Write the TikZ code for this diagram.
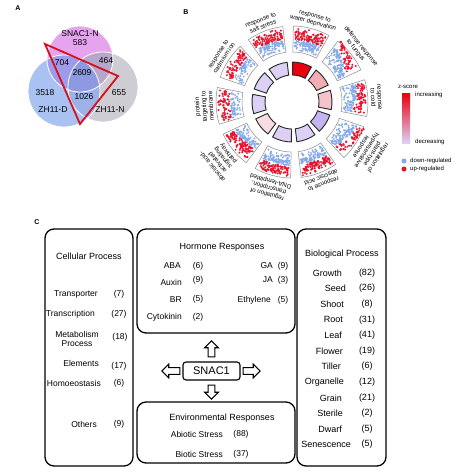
\documentclass[tikz,border=0pt]{standalone}
\usepackage{fontspec}
\setmainfont{Liberation Sans}
\usetikzlibrary{shapes.arrows}
\definecolor{VennPink}{HTML}{E6A4EE}
\definecolor{VennBlue}{HTML}{A9C2F2}
\definecolor{VennGray}{HTML}{CDCDD3}
\definecolor{VennSD}{HTML}{9E9CEA}
\definecolor{VennSN}{HTML}{B8A7CC}
\definecolor{VennDN}{HTML}{9CB2E6}
\definecolor{VennAll}{HTML}{8D99E0}
\definecolor{TriRed}{HTML}{D7101F}
\definecolor{ZRed}{HTML}{E8000E}
\definecolor{ZPink}{HTML}{F2ACB4}
\definecolor{ZPinkL}{HTML}{F5C3CB}
\definecolor{ZPinkXL}{HTML}{F8DCE3}
\definecolor{ZPurp}{HTML}{C4B4F2}
\definecolor{ZLav}{HTML}{DCD0F5}
\definecolor{ScRed}{HTML}{E8142E}
\definecolor{ScBlue}{HTML}{82A9EA}
\definecolor{SecLine}{HTML}{8A8A8A}

\tikzset{
  panlab/.style={font=\fontsize{7}{8}\selectfont\bfseries, inner sep=0pt},
  venntxt/.style={font=\fontsize{8.5}{9}\selectfont, inner sep=0pt},
  seclab/.style={font=\fontsize{6.2}{6.8}\selectfont, align=center, inner sep=0.3pt},
  legtxt/.style={font=\fontsize{6}{7}\selectfont, inner sep=0pt, anchor=west},
  groupbox/.style={draw, line width=1.3pt, rounded corners=9pt},
  boxtitle/.style={font=\fontsize{9}{10}\selectfont, inner sep=0pt},
  itemtxt/.style={font=\fontsize{8.5}{9}\selectfont, inner sep=0pt},
  bioitem/.style={font=\fontsize{9}{10}\selectfont, inner sep=0pt},
  blockarrow/.style={draw, line width=1.1pt, fill=white, single arrow,
    single arrow head extend=3.5pt, inner sep=2.8pt, minimum height=#1},
  blockarrow/.default=16pt
}

\begin{document}
\begin{tikzpicture}[x=1pt,y=1pt]
\fill[white,use as bounding box] (0,0) rectangle (474,-474);

% A: venn
\node[panlab] (labA) at (18,-8) {A};
\coordinate (cS) at (80,-59);
\coordinate (cD) at (64,-91);
\coordinate (cN) at (103,-87);
\fill[VennBlue] (cD) circle (36pt);
\fill[VennGray] (cN) circle (35pt);
\fill[VennPink] (cS) circle (33pt);
\begin{scope}
  \clip (cS) circle (33pt);
  \fill[VennSD] (cD) circle (36pt);
  \fill[VennSN] (cN) circle (35pt);
\end{scope}
\begin{scope}
  \clip (cD) circle (36pt);
  \fill[VennDN] (cN) circle (35pt);
  \clip (cS) circle (33pt);
  \fill[VennAll] (cN) circle (35pt);
\end{scope}
\draw[white, line width=0.8pt] (cD) circle (36pt) (cN) circle (35pt) (cS) circle (33pt);
\node[venntxt] (vnS) at (80,-34) {SNAC1-N};
\node[venntxt] (vS) at (80,-43) {583};
\node[venntxt] (vSD) at (62,-63) {704};
\node[venntxt] (vSN) at (106,-61) {464};
\node[venntxt] (vAll) at (82,-73) {2609};
\node[venntxt] (vD) at (45,-93) {3518};
\node[venntxt] (vDN) at (84,-97) {1026};
\node[venntxt] (vN) at (119,-93) {655};
\node[venntxt] (vnD) at (53,-110) {ZH11-D};
\node[venntxt] (vnN) at (110,-110) {ZH11-N};
\draw[TriRed, line width=1.8pt, line join=miter] (45,-44) -- (118,-76) -- (80,-124) -- cycle;

% B: go circle
\node[panlab] (labB) at (186,-12) {B};
\begin{scope}[shift={(292,-102)}]
\pgfmathsetseed{11}
\foreach \a/\zc/\rz/\sl/\nb/\nr/\lab [count=\k] in {
  111/ZLav/63/0/100/100/{response to\\salt stress},
  75/ZRed/62/0/100/110/{response to\\water deprivation},
  39/ZPink/65/12/120/60/{defense response\\to fungus},
  3/ZPinkL/64/6/110/70/{response\\to cold},
  -33/ZPurp/66/8/120/55/{regulation of\\plant-type\\hypersensitive\\response},
  -69/ZLav/63/0/100/110/{response to\\abscisic acid},
  -105/ZLav/64/0/110/110/{regulation of\\transcription,\\DNA-templated},
  -141/ZPinkXL/62/-6/90/110/{abscisic acid-\\activated\\signaling\\pathway},
  183/ZLav/62/0/60/75/{protein\\targeting to\\membrane},
  147/ZLav/63/0/70/80/{response to\\cadmium ion}}{
  \draw[SecLine, line width=0.5pt] (\a-14:50) -- (\a-14:76)
    arc[start angle=\a-14, end angle=\a+14, radius=76pt] -- (\a+14:50)
    arc[start angle=\a+14, end angle=\a-14, radius=50pt] -- cycle;
  % down-regulated: dense band under the zero line, sparse towards the inside
  \foreach \i in {1,...,\nb}{
    \pgfmathsetmacro\u{rnd}\pgfmathsetmacro\v{rnd}\pgfmathsetmacro\w{rnd}
    \pgfmathsetmacro\t{\a-12.5+25*\u}
    \pgfmathsetmacro\m{\rz+\sl*(\u-0.5)}
    \pgfmathsetmacro\r{\w<0.65 ? \m-0.5-5*\v : 52+(\m-57)*\v}
    \fill[ScBlue] (\t:\r) circle (1pt);
  }
  % up-regulated: dense band over the zero line, a few outliers
  \foreach \i in {1,...,\nr}{
    \pgfmathsetmacro\u{rnd}\pgfmathsetmacro\v{rnd}\pgfmathsetmacro\w{rnd}
    \pgfmathsetmacro\t{\a-12.5+25*\u}
    \pgfmathsetmacro\m{\rz+\sl*(\u-0.5)}
    \pgfmathsetmacro\r{\w<0.8 ? \m+0.5+7*\v : \m+7.5+(74-\m-7.5)*\v}
    \fill[ScRed] (\t:\r) circle (1.1pt);
  }
  \draw[black!85, line width=0.9pt, fill=\zc] (\a-14:27) -- (\a-14:40)
    arc[start angle=\a-14, end angle=\a+14, radius=40pt] -- (\a+14:27)
    arc[start angle=\a+14, end angle=\a-14, radius=27pt] -- cycle;
  \node[seclab, rotate=\a-90, anchor=south] (slab\k) at (\a:78.5) {\lab};
}
\end{scope}
% legend
\node[legtxt] (zlab) at (398,-87) {z-score};
\shade[top color=ZRed, middle color=white, bottom color=ZLav] (402,-93) rectangle (410,-143);
\node[legtxt] (zinc) at (415,-95) {increasing};
\node[legtxt] (zdec) at (415,-142) {decreasing};
\fill[ScBlue] (404,-161) circle (2.5pt);
\node[legtxt] (ldown) at (410,-161) {down-regulated};
\fill[ScRed] (404,-169) circle (2.5pt);
\node[legtxt] (lup) at (410,-169) {up-regulated};

% C: boxes
\node[panlab] (labC) at (37,-222) {C};
\draw[groupbox] (45,-229) rectangle (133,-466);
\draw[groupbox] (137,-229) rectangle (295,-333);
\draw[groupbox] (137,-402) rectangle (295,-463);
\draw[groupbox] (297,-229) rectangle (386,-466);

% cellular process
\node[boxtitle] (cpT) at (89,-256) {Cellular Process};
\node[itemtxt, anchor=east] (cp1) at (98,-294) {Transporter};
\node[itemtxt] (cp1n) at (119,-294) {(7)};
\node[itemtxt, anchor=east] (cp2) at (95,-314) {Transcription};
\node[itemtxt] (cp2n) at (119,-314) {(27)};
\node[itemtxt, align=center] (cp3) at (77,-338.5) {Metabolism\\Process};
\node[itemtxt] (cp3n) at (120,-337) {(18)};
\node[itemtxt, anchor=east] (cp4) at (99,-363) {Elements};
\node[itemtxt] (cp4n) at (119,-366) {(17)};
\node[itemtxt, anchor=east] (cp5) at (101,-383) {Homoeostasis};
\node[itemtxt] (cp5n) at (119,-383) {(6)};
\node[itemtxt, anchor=east] (cp6) at (97,-424) {Others};
\node[itemtxt] (cp6n) at (119,-424) {(9)};

% hormone responses
\node[boxtitle] (hrT) at (222,-247) {Hormone Responses};
\node[itemtxt, anchor=east] (hr1) at (181,-266) {ABA};
\node[itemtxt] (hr1n) at (198,-266) {(6)};
\node[itemtxt, anchor=east] (hr2) at (182,-282) {Auxin};
\node[itemtxt] (hr2n) at (198,-280) {(9)};
\node[itemtxt, anchor=east] (hr3) at (182,-300) {BR};
\node[itemtxt] (hr3n) at (198,-299) {(5)};
\node[itemtxt, anchor=east] (hr4) at (182,-317) {Cytokinin};
\node[itemtxt] (hr4n) at (198,-317) {(2)};
\node[itemtxt, anchor=east] (hr5) at (273,-266) {GA};
\node[itemtxt] (hr5n) at (283,-266) {(9)};
\node[itemtxt, anchor=east] (hr6) at (273,-280) {JA};
\node[itemtxt] (hr6n) at (283,-280) {(3)};
\node[itemtxt, anchor=east] (hr7) at (271,-300) {Ethylene};
\node[itemtxt] (hr7n) at (283,-300) {(5)};

% environmental responses
\node[boxtitle] (erT) at (222,-418) {Environmental Responses};
\node[itemtxt, anchor=east] (er1) at (223,-434) {Abiotic Stress};
\node[itemtxt] (er1n) at (241,-434) {(88)};
\node[itemtxt, anchor=east] (er2) at (223,-454) {Biotic Stress};
\node[itemtxt] (er2n) at (241,-454) {(37)};

% SNAC1 and arrows
\node[draw, line width=1.1pt, rounded corners=3pt, minimum width=57pt, minimum height=18pt,
  font=\fontsize{11}{12}\selectfont] (snac) at (211.5,-371) {SNAC1};
\node[blockarrow=16pt, rotate=90, anchor=tail] (arrU) at ([yshift=4pt]snac.north) {};
\node[blockarrow=14pt, rotate=-90, anchor=tail] (arrD) at ([yshift=-4pt]snac.south) {};
\node[blockarrow=18pt, rotate=180, anchor=tail] (arrL) at ([xshift=-2pt]snac.west) {};
\node[blockarrow=17pt, anchor=tail] (arrR) at ([xshift=2pt]snac.east) {};

% biological process
\node[boxtitle] (bpT) at (342,-254) {Biological Process};
\foreach \nm/\num/\xr [count=\i] in {Growth/82/342, Seed/26/346, Shoot/8/344, Root/31/343,
  Leaf/41/342, Flower/19/343, Tiller/6/341, Organelle/12/344, Grain/21/342,
  Sterile/2/343, Dwarf/5/342, Senescence/5/351}{
  \node[bioitem, anchor=east] (bp\i) at (\xr,-273-15.6*\i+15.6) {\nm};
  \node[bioitem] (bp\i n) at (367,-273-15.6*\i+15.6) {(\num)};
}
\end{tikzpicture}
\end{document}
